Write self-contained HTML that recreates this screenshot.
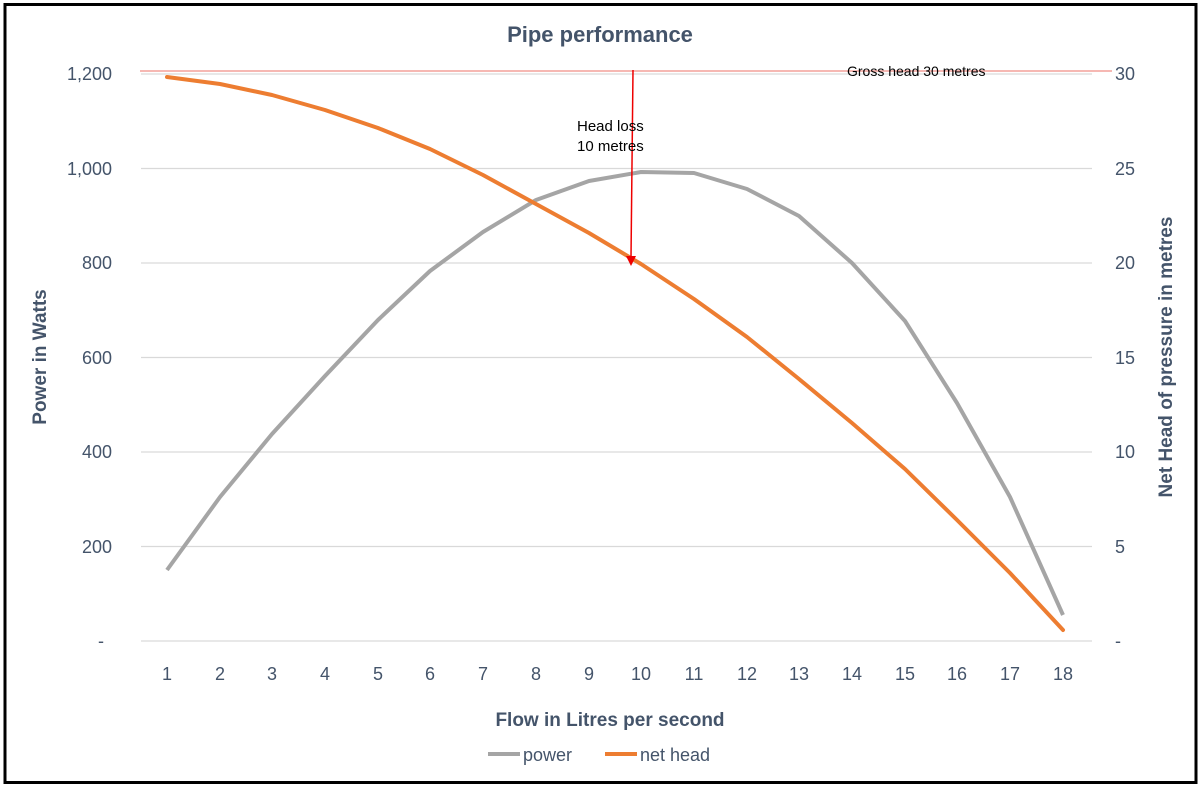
<!DOCTYPE html><html><head><style>body{margin:0;background:#fff}svg{display:block}</style></head><body>
<svg width="1200" height="786" xmlns="http://www.w3.org/2000/svg" font-family="Liberation Sans, sans-serif">
<rect x="0" y="0" width="1200" height="786" fill="#fff"/>
<rect x="5" y="4.5" width="1191" height="778" fill="none" stroke="#000" stroke-width="3"/>
<g stroke="#d9d9d9" stroke-width="1.2">
<line x1="141" x2="1092" y1="74" y2="74"/><line x1="141" x2="1092" y1="168.5" y2="168.5"/><line x1="141" x2="1092" y1="263" y2="263"/><line x1="141" x2="1092" y1="357.5" y2="357.5"/><line x1="141" x2="1092" y1="452" y2="452"/><line x1="141" x2="1092" y1="546.5" y2="546.5"/><line x1="141" x2="1092" y1="641" y2="641"/>
</g>
<line x1="140" x2="1112" y1="71" y2="71" stroke="#f4a09a" stroke-width="1.5"/>
<text x="600" y="42" text-anchor="middle" font-size="22" font-weight="bold" fill="#44546a">Pipe performance</text>
<g font-size="18" fill="#44546a" text-anchor="end">
<text x="112" y="80">1,200</text><text x="112" y="175">1,000</text><text x="112" y="269">800</text><text x="112" y="364">600</text><text x="112" y="458">400</text><text x="112" y="553">200</text><text x="104" y="647">-</text>
</g>
<g font-size="18" fill="#44546a" text-anchor="start">
<text x="1115" y="80">30</text><text x="1115" y="175">25</text><text x="1115" y="269">20</text><text x="1115" y="364">15</text><text x="1115" y="458">10</text><text x="1115" y="553">5</text><text x="1115" y="647">-</text>
</g>
<g font-size="18" fill="#44546a" text-anchor="middle">
<text x="167" y="680">1</text><text x="220" y="680">2</text><text x="272" y="680">3</text><text x="325" y="680">4</text><text x="378" y="680">5</text><text x="430" y="680">6</text><text x="483" y="680">7</text><text x="536" y="680">8</text><text x="589" y="680">9</text><text x="641" y="680">10</text><text x="694" y="680">11</text><text x="747" y="680">12</text><text x="799" y="680">13</text><text x="852" y="680">14</text><text x="905" y="680">15</text><text x="957" y="680">16</text><text x="1010" y="680">17</text><text x="1063" y="680">18</text>
</g>
<text x="610" y="726" text-anchor="middle" font-size="19" font-weight="bold" fill="#44546a">Flow in Litres per second</text>
<text transform="translate(46,357) rotate(-90)" text-anchor="middle" font-size="19" font-weight="bold" fill="#44546a">Power in Watts</text>
<text transform="translate(1172,357) rotate(-90)" text-anchor="middle" font-size="19" font-weight="bold" fill="#44546a">Net Head of pressure in metres</text>
<polyline fill="none" stroke="#a5a5a5" stroke-width="4" stroke-linejoin="round" points="167,570 220,497 272,434 325,376 378,320 430,271 483,232 536,200 589,181 641,172 694,173 747,189 799,216 852,263 905,321 957,403 1010,497 1063,615"/>
<polyline fill="none" stroke="#ed7d31" stroke-width="4" stroke-linejoin="round" stroke-linecap="round" points="167,77 220,84 272,95 325,110 378,128 430,149 483,175 536,204 589,233 641,264 694,299 747,337 799,379 852,423 905,469 957,520 1010,573 1063,630"/>
<line x1="633" y1="70" x2="631" y2="258" stroke="#e00" stroke-width="1.5"/>
<polygon points="626,256 636,256 631,266" fill="#e00"/>
<text x="577" y="131" font-size="15" fill="#000">Head loss</text>
<text x="577" y="151" font-size="15" fill="#000">10 metres</text>
<text x="847" y="76" font-size="14" fill="#000">Gross head 30 metres</text>
<line x1="488" x2="520" y1="754" y2="754" stroke="#a5a5a5" stroke-width="4"/>
<text x="523" y="761" font-size="18" fill="#44546a">power</text>
<line x1="605" x2="637" y1="754" y2="754" stroke="#ed7d31" stroke-width="4"/>
<text x="640" y="761" font-size="18" fill="#44546a">net head</text>
</svg></body></html>
